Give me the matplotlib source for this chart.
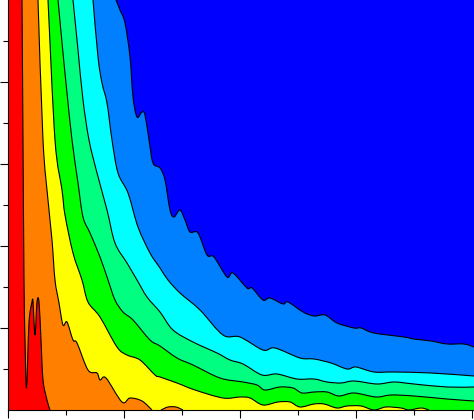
import matplotlib
matplotlib.use("Agg")
import matplotlib.pyplot as plt
from matplotlib.path import Path
from matplotlib.patches import PathPatch

# Contour level boundaries (axis units are unlabelled)
b1_x = [14, 15, 16, 17, 18.5, 21, 24, 25, 27, 29, 31, 33, 35, 39, 42]
b1_y = [410, 270, 130, 70, 22, 87, 108, 108, 75, 108, 108, 70, 30, 10, 0]
b2_x = [30, 35, 40, 44, 47, 51, 55, 59, 65, 69, 80, 89, 92, 98, 114, 122, 134, 144]
b2_y = [410, 270, 210, 170, 130, 107, 85, 88, 70, 67, 40, 37, 30, 32, 8, 12, 9, 0]
blob_x = [153, 160, 168, 175]
blob_y = [0, 3, 3, 0]
b3_x = [40, 47, 54, 57, 65, 74, 80, 92, 109, 119, 132, 147, 152, 169, 187, 215, 232, 242, 255, 270, 282, 292, 306, 316, 329, 339, 353, 366, 378, 393, 401, 413, 421]
b3_y = [410, 270, 220, 195, 157, 130, 108, 93, 63, 55, 50, 35, 33, 27, 20, 12, 13, 12, 5, 8, 8, 3, 6, 6, 2, 4, 4, 0, 3, 2, 0, 2, 0]
b4_x = [50, 55, 59, 64, 70, 75, 82, 92, 100, 107, 115, 125, 142, 152, 169, 185, 212, 235, 249, 257, 272, 285, 294, 306, 319, 331, 346, 368, 383, 406, 439, 466]
b4_y = [410, 357, 317, 270, 227, 193, 177, 153, 130, 110, 98, 90, 70, 64, 52, 45, 32, 28, 25, 20, 23, 22, 17, 18, 18, 14, 17, 13, 15, 14, 11, 9]
b5_x = [65, 70, 75, 81, 89, 99, 107, 119, 129, 139, 152, 165, 185, 209, 222, 235, 254, 269, 289, 306, 319, 333, 346, 369, 386, 406, 439, 466]
b5_y = [410, 360, 310, 270, 237, 200, 167, 147, 130, 113, 98, 80, 68, 57, 50, 46, 35, 36, 31, 31, 28, 27, 29, 26, 28, 26, 23, 23]
b6_x = [85, 90, 94, 99, 104, 110, 120, 130, 142, 152, 160, 172, 192, 215, 232, 255, 267, 292, 306, 323, 339, 348, 366, 386, 423, 466]
b6_y = [410, 353, 327, 307, 270, 237, 217, 183, 157, 142, 130, 117, 100, 75, 73, 60, 62, 52, 51, 47, 41, 43, 38, 38, 37, 34]
b7_x = [108, 112, 117, 122, 125, 129, 134, 137, 141, 145, 152, 157, 162, 166, 172, 177, 182, 190, 199, 206, 219, 225, 239, 244, 255, 262, 275, 280, 295, 306, 317, 329, 346, 353, 366, 396, 406, 423, 439, 456, 466]
b7_y = [410, 400, 387, 353, 313, 293, 298, 295, 270, 247, 242, 230, 200, 193, 200, 190, 178, 177, 155, 153, 133, 137, 122, 122, 110, 112, 106, 108, 98, 94, 95, 87, 82, 82, 77, 73, 71, 69, 66, 66, 63]

level_colors = ["#0000ff", "#0080ff", "#00ffff", "#00ff80", "#00ff00", "#ffff00", "#ff8000", "#ff0000"]
x_major = [0, 116, 232, 348, 464]
x_minor = [58, 174, 290, 406]
y_major = [82, 164, 246, 328]
y_minor = [41, 123, 205, 287, 369]


def curve(xs, ys):
    """Bezier path through the read points, so the contour edges are rounded."""
    pts = list(zip(xs, ys))
    verts = [pts[0]]
    codes = [Path.MOVETO]
    n = len(pts)
    for i in range(n - 1):
        p0 = pts[max(i - 1, 0)]
        p1 = pts[i]
        p2 = pts[i + 1]
        p3 = pts[min(i + 2, n - 1)]
        c1 = (p1[0] + (p2[0] - p0[0]) / 6, p1[1] + (p2[1] - p0[1]) / 6)
        c2 = (p2[0] - (p3[0] - p1[0]) / 6, p2[1] - (p3[1] - p1[1]) / 6)
        verts += [c1, c2, p2]
        codes += [Path.CURVE4] * 3
    return verts, codes


fig = plt.figure(figsize=(4.74, 4.20), dpi=100)
ax = fig.add_axes([8 / 474, 10 / 420, 466 / 474, 410 / 420])
ax.set_xlim(0, 466)
ax.set_ylim(0, 410)
ax.set_facecolor(level_colors[0])

LW = 0.8
boundaries = [(b7_x, b7_y), (b6_x, b6_y), (b5_x, b5_y), (b4_x, b4_y),
              (b3_x, b3_y), (b2_x, b2_y), (b1_x, b1_y)]
for (xs, ys), col in zip(boundaries, level_colors[1:]):
    verts, codes = curve(xs, ys)
    tail = [(466, 0), (0, 0), (0, 410)] if xs[-1] == 466 else [(0, 0), (0, 410)]
    fill = Path(verts + tail + [tail[-1]], codes + [Path.LINETO] * len(tail) + [Path.CLOSEPOLY])
    ax.add_patch(PathPatch(fill, facecolor=col, edgecolor="none", lw=0))
    ax.add_patch(PathPatch(Path(verts, codes), facecolor="none", edgecolor="black", lw=LW))
verts, codes = curve(blob_x, blob_y)
ax.add_patch(PathPatch(Path(verts, codes), facecolor=level_colors[6], edgecolor="black", lw=LW))

for s in ("top", "right"):
    ax.spines[s].set_visible(False)
for s in ("left", "bottom"):
    ax.spines[s].set_linewidth(0.8)
    ax.spines[s].set_zorder(5)

ax.set_xticks(x_major)
ax.set_xticks(x_minor, minor=True)
ax.set_yticks(y_major)
ax.set_yticks(y_minor, minor=True)
ax.tick_params(which="major", direction="out", length=6, width=0.8, labelbottom=False, labelleft=False)
ax.tick_params(which="minor", direction="out", length=3.5, width=0.8)

fig.savefig("out.png", dpi=100)
